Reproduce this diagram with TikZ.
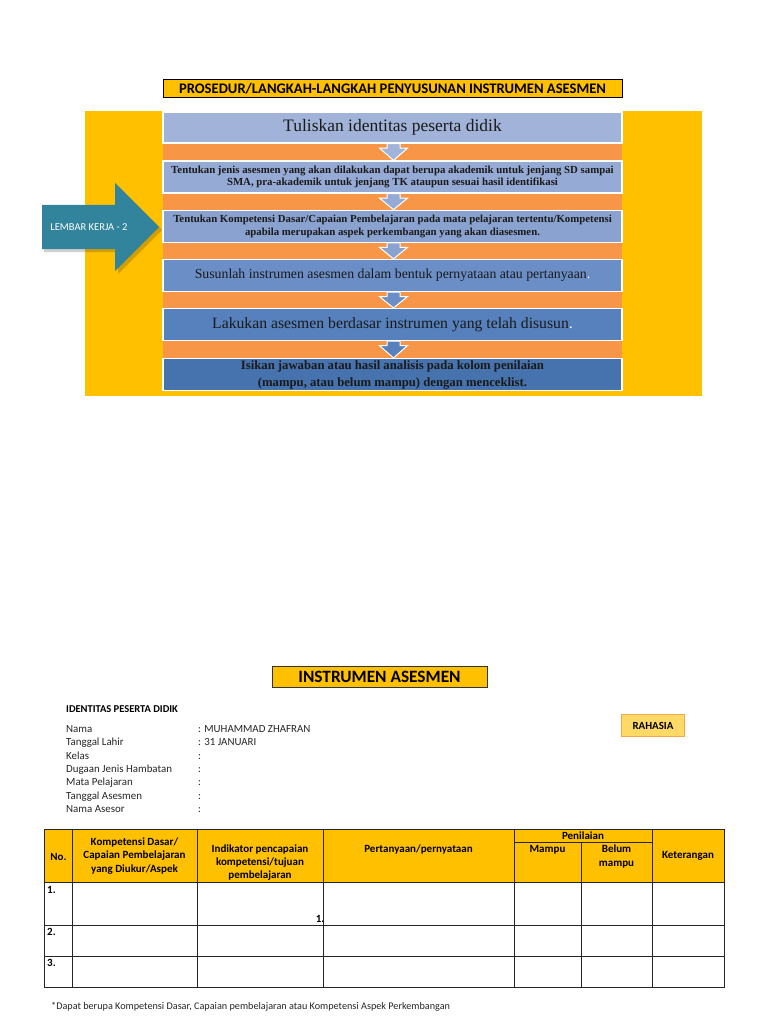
\documentclass[tikz,border=0pt]{standalone}
\usepackage{fontspec}
\setmainfont{Carlito}
\newfontfamily\boxserif{Liberation Serif}
\usetikzlibrary{calc}
\definecolor{gold}{HTML}{FFC000}
\definecolor{orng}{HTML}{F79646}
\definecolor{tealarrow}{HTML}{31849B}
\definecolor{bxa}{HTML}{A1B3D8}
\definecolor{bxb}{HTML}{95AAD4}
\definecolor{bxc}{HTML}{8AA2CF}
\definecolor{bxd}{HTML}{6B8EC6}
\definecolor{bxe}{HTML}{5681BD}
\definecolor{bxf}{HTML}{4672AD}
\definecolor{rahfill}{HTML}{FFD966}
\definecolor{rahdraw}{HTML}{F6A54C}
\definecolor{txtdark}{HTML}{1A1A1A}
\tikzset{
  stepbox/.style={draw=white, line width=1.2pt, minimum width=459pt, minimum height=32pt,
    inner sep=0pt, align=center, text=txtdark},
  tcell/.style={inner sep=0pt, align=center, font=\bfseries\fontsize{11}{13.3}\selectfont, text=black},
  lbl/.style={anchor=base west, inner sep=0pt, font=\fontsize{10.9}{12}\selectfont, text=black!85},
  tline/.style={draw=black!85, line width=0.9pt}
}
\newcommand\flowarrow[3]{%
  \filldraw[fill=#3, draw=white, line width=1pt] let \p1=(#1.south), \p2=(#2.north) in
    (\x1-5.5pt,\y1) -- (\x1-5.5pt,\y1-4.5pt) -- (\x1-13pt,\y1-4.5pt) -- (\x1+1pt,\y2)
    -- (\x1+15pt,\y1-4.5pt) -- (\x1+7.5pt,\y1-4.5pt) -- (\x1+7.5pt,\y1) -- cycle;}
\begin{document}
\begin{tikzpicture}[x=1pt,y=-1pt]
\useasboundingbox (0,0) rectangle (768,1024);
\fill[white] (0,0) rectangle (768,1024);

% ---------- top section ----------
\node[draw=black, line width=0.8pt, fill=gold, minimum width=459pt, minimum height=18pt, inner sep=0pt,
  font=\bfseries\fontsize{14.6}{16}\selectfont] (title) at (392.5,88.5)
  {PROSEDUR/LANGKAH-LANGKAH PENYUSUNAN INSTRUMEN ASESMEN};

\fill[gold] (85,111) rectangle (702,396);
\fill[orng] (163,112) rectangle (622,390);

\node[stepbox, fill=bxa, minimum height=31pt, font=\boxserif\fontsize{17.5}{19}\selectfont] (b1) at (392.5,127.5)
  {Tuliskan identitas peserta didik};
\node[stepbox, fill=bxb, font=\boxserif\bfseries\fontsize{10.8}{12.3}\selectfont] (b2) at (392.5,177)
  {Tentukan jenis asesmen yang akan dilakukan dapat berupa akademik untuk jenjang SD sampai\\
   SMA, pra-akademik untuk jenjang TK ataupun sesuai hasil identifikasi};
\node[stepbox, fill=bxc, font=\boxserif\bfseries\fontsize{10.8}{12.3}\selectfont] (b3) at (392.5,226.3)
  {Tentukan Kompetensi Dasar/Capaian Pembelajaran pada mata pelajaran tertentu/Kompetensi\\
   apabila merupakan aspek perkembangan yang akan diasesmen.};
\node[stepbox, fill=bxd, font=\boxserif\fontsize{13.8}{15}\selectfont] (b4) at (392.5,275.5)
  {Susunlah instrumen asesmen dalam bentuk pernyataan atau pertanyaan{\color{white}.}};
\node[stepbox, fill=bxe, font=\boxserif\fontsize{15.7}{17}\selectfont] (b5) at (392.5,324.5)
  {Lakukan asesmen berdasar instrumen yang telah disusun{\color{white}.}};
\node[stepbox, fill=bxf, font=\boxserif\bfseries\fontsize{12.7}{17}\selectfont] (b6) at (392.5,374.5)
  {Isikan jawaban atau hasil analisis pada kolom penilaian\\
   (mampu, atau belum mampu) dengan menceklist.};

\flowarrow{b1}{b2}{bxa}
\flowarrow{b2}{b3}{bxb}
\flowarrow{b3}{b4}{bxc}
\flowarrow{b4}{b5}{bxd}
\flowarrow{b5}{b6}{bxe}

% side arrow
\fill[black, opacity=0.18] (44,208) -- (118,208) -- (118,186) -- (162,230) -- (118,274) -- (118,252) -- (44,252) -- cycle;
\fill[tealarrow] (42,205) -- (115,205) -- (115,183) -- (159,227) -- (115,271) -- (115,249) -- (42,249) -- cycle;
\node[inner sep=0pt, text=white, font=\fontsize{10.5}{12}\selectfont] (lk) at (89,227) {LEMBAR KERJA - 2};

% ---------- bottom section ----------
\node[draw=black!80, line width=0.8pt, fill=gold, minimum width=215pt, minimum height=21pt, inner sep=0pt,
  font=\bfseries\fontsize{17.3}{19}\selectfont] (inst) at (379.5,676.5) {INSTRUMEN ASESMEN};

\node[lbl, font=\bfseries\fontsize{10.5}{12}\selectfont, text=black] (ident) at (66,712) {IDENTITAS PESERTA DIDIK};

\node[lbl] (l1) at (66,732.5) {Nama};
\node[lbl] (l2) at (66,745.8) {Tanggal Lahir};
\node[lbl] (l3) at (66,759.1) {Kelas};
\node[lbl] (l4) at (66,772.4) {Dugaan Jenis Hambatan};
\node[lbl] (l5) at (66,785.7) {Mata Pelajaran};
\node[lbl] (l6) at (66,799.0) {Tanggal Asesmen};
\node[lbl] (l7) at (66,812.3) {Nama Asesor};
\node[lbl] (v1) at (198,732.5) {: MUHAMMAD ZHAFRAN};
\node[lbl] (v2) at (198,745.8) {: 31 JANUARI};
\node[lbl] (v3) at (198,759.1) {:};
\node[lbl] (v4) at (198,772.4) {:};
\node[lbl] (v5) at (198,785.7) {:};
\node[lbl] (v6) at (198,799.0) {:};
\node[lbl] (v7) at (198,812.3) {:};

\node[draw=rahdraw, line width=1pt, fill=rahfill, minimum width=63pt, minimum height=22pt, inner sep=0pt,
  font=\bfseries\fontsize{10.9}{12}\selectfont] (rah) at (653,725.5) {RAHASIA};

% table
\fill[gold] (44,829) rectangle (724,882);
\draw[tline] (44,829) rectangle (724,987);
\draw[tline] (44,882) -- (724,882);
\draw[tline] (44,925) -- (724,925);
\draw[tline] (44,956) -- (724,956);
\draw[tline] (514,842.5) -- (652,842.5);
\foreach \xx in {72,197,323,514,652} \draw[tline] (\xx,829) -- (\xx,987);
\draw[tline] (581,842.5) -- (581,987);

\node[tcell] (hno) at (58.5,856.5) {No.};
\node[tcell] (hkd) at (134.5,856) {Kompetensi Dasar/\\Capaian Pembelajaran\\yang Diukur/Aspek};
\node[tcell] (hind) at (260,862.5) {Indikator pencapaian\\kompetensi/tujuan\\pembelajaran};
\node[tcell] (hper) at (418.5,849.5) {Pertanyaan/pernyataan};
\node[tcell] (hpen) at (583,835.5) {Penilaian};
\node[tcell] (hmam) at (547.5,849.5) {Mampu};
\node[tcell] (hbel) at (616.5,856.5) {Belum\\mampu};
\node[tcell] (hket) at (688,856) {Keterangan};

\node[tcell, anchor=west] (r1) at (47,890) {1.};
\node[tcell, anchor=west] (r2) at (47,932) {2.};
\node[tcell, anchor=west] (r3) at (47,963) {3.};
\node[tcell, anchor=east] (stray) at (324.5,919) {1.};

\node[lbl, font=\fontsize{10.2}{12}\selectfont, text=black!85] (foot) at (51,1009.5)
  {*Dapat berupa Kompetensi Dasar, Capaian pembelajaran atau Kompetensi Aspek Perkembangan};
\end{tikzpicture}
\end{document}
